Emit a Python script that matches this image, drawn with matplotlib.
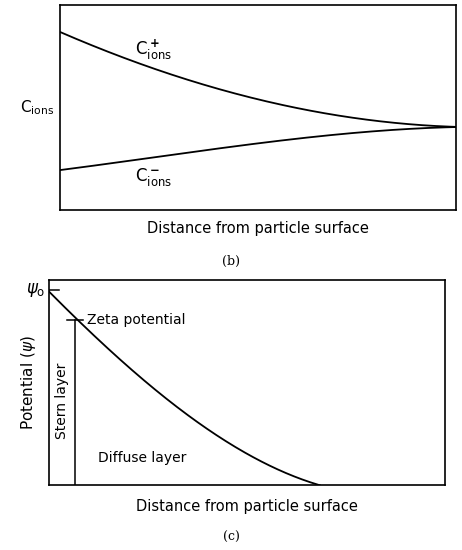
import numpy as np
import matplotlib.pyplot as plt

# top panel: ion concentrations vs distance
x_top = [0.0, 0.25, 0.5, 0.75, 1.0]
c_plus = [0.868, 0.683, 0.537, 0.449, 0.405]
c_minus = [0.195, 0.259, 0.327, 0.376, 0.405]

# bottom panel: potential vs distance
x_pot = [0.0, 0.066, 0.298, 0.465, 0.684]
psi = [0.951, 0.805, 0.429, 0.185, 0.0]
x_stern = 0.066
zeta = 0.805

plt.rcParams['font.family'] = 'DejaVu Sans'
fig = plt.figure(figsize=(4.62, 5.5), dpi=100)

def smooth(xs, ys):
    xx = np.linspace(xs[0], xs[-1], 200)
    c = np.polyfit(xs, ys, 3)
    return xx, np.polyval(c, xx)

ax1 = fig.add_axes([60/462, 1-210/550, 396/462, 205/550])
xx, yy = smooth(x_top, c_plus)
ax1.plot(xx, yy, 'k', lw=1.3)
xx, yy = smooth(x_top, c_minus)
ax1.plot(xx, yy, 'k', lw=1.3)
ax1.set_xlim(0, 1); ax1.set_ylim(0, 1)
ax1.set_xticks([]); ax1.set_yticks([])
ax1.text(0.19, 0.78, r'C$^{\bf +}_{\rm ions}$', fontsize=12, ha='left', va='center')
ax1.text(0.19, 0.16, r'C$^{\bf -}_{\rm ions}$', fontsize=12, ha='left', va='center')
ax1.set_ylabel(r'C$_{\rm ions}$', fontsize=11, rotation=0, ha='right', va='center')
ax1.set_xlabel('Distance from particle surface', fontsize=10.5, labelpad=8)
fig.text(0.5, 1-261/550, '(b)', ha='center', va='center', family='DejaVu Serif', fontsize=9)

ax2 = fig.add_axes([49/462, 1-485/550, 396/462, 205/550])
xx, yy = smooth(x_pot, psi)
ax2.plot(xx, yy, 'k', lw=1.3)
ax2.plot([x_stern, x_stern], [0, zeta], 'k', lw=1.1)
ax2.plot([x_stern - 0.02, x_stern + 0.02], [zeta, zeta], 'k', lw=1.1)
ax2.plot([0, 0.025], [psi[0], psi[0]], 'k', lw=1.1)
ax2.set_xlim(0, 1); ax2.set_ylim(0, 1)
ax2.set_xticks([]); ax2.set_yticks([])
ax2.text(-0.01, psi[0], r'$\psi_{\rm o}$', fontsize=12, ha='right', va='center')
ax2.text(0.095, zeta, 'Zeta potential', fontsize=10, va='center')
ax2.text(0.034, 0.41, 'Stern layer', fontsize=10, rotation=90, ha='center', va='center')
ax2.text(0.125, 0.13, 'Diffuse layer', fontsize=10, va='center')
ax2.set_ylabel(r'Potential ($\psi$)', fontsize=11, labelpad=8)
ax2.set_xlabel('Distance from particle surface', fontsize=10.5, labelpad=10)
fig.text(0.5, 1-537/550, '(c)', ha='center', va='center', family='DejaVu Serif', fontsize=9)

for a in (ax1, ax2):
    for s in a.spines.values():
        s.set_linewidth(1.2)

fig.savefig('out.png', dpi=100)
